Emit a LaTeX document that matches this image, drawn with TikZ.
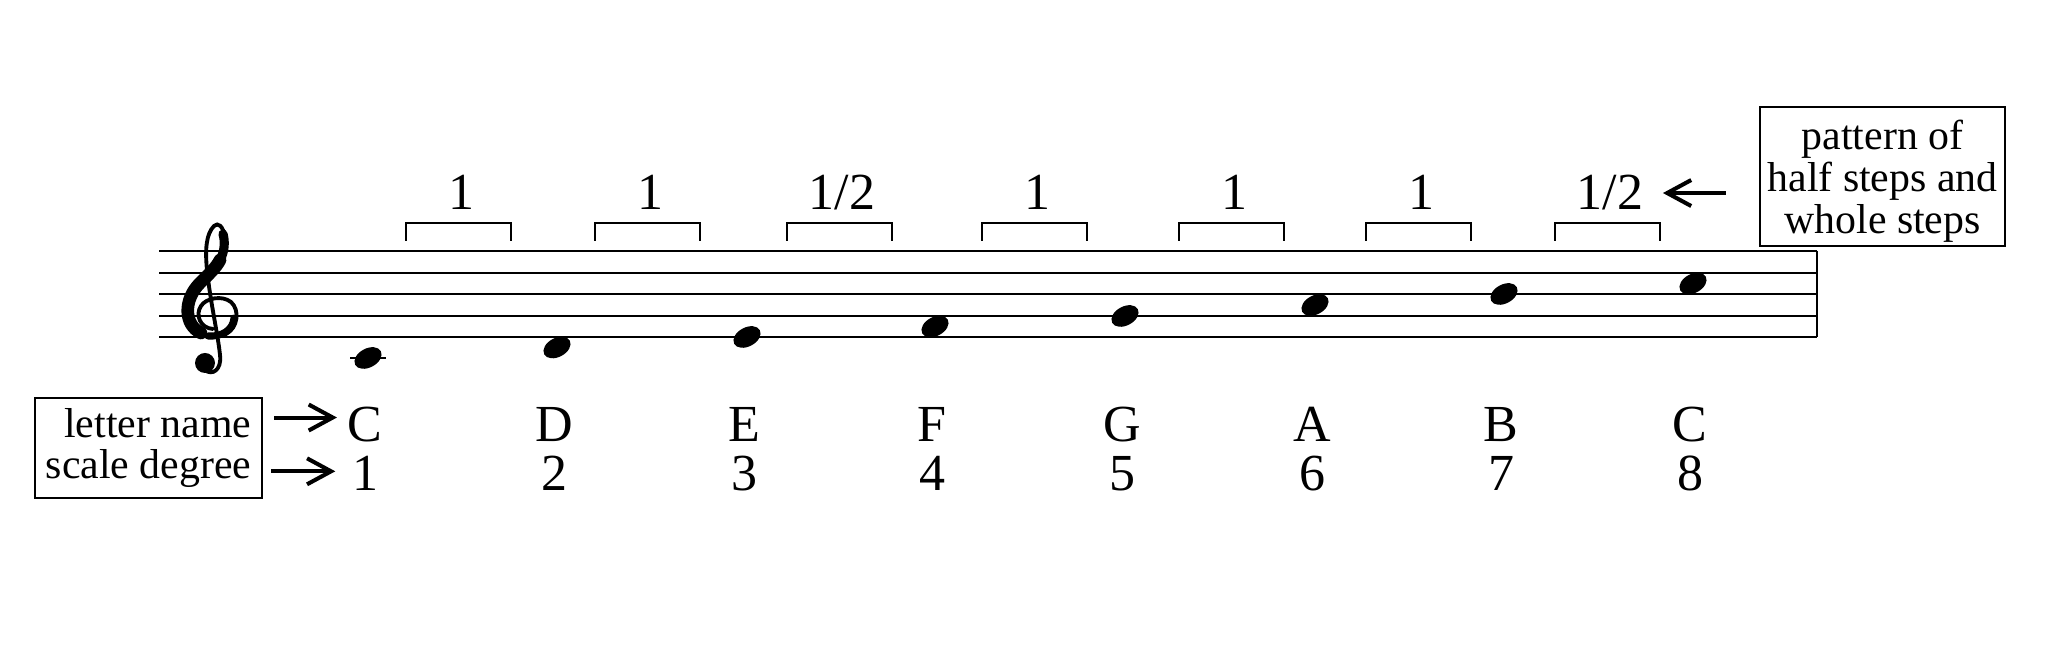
\documentclass[tikz,border=0pt]{standalone}
\usepackage{fontspec}
\setmainfont{Liberation Serif}
\usetikzlibrary{arrows.meta}

\begin{document}
\begin{tikzpicture}[x=0.1mm, y=-0.1mm,
    linea/.style={line width=0.57pt},
    etiqueta/.style={font=\fontsize{14.8}{17}\selectfont, anchor=base, inner sep=0pt},
    caja/.style={draw, line width=0.6pt, inner sep=0pt},
    flecha/.style={line width=1.15pt, -{Straight Barb[length=2.4mm, width=2.6mm]}}]
    \useasboundingbox (0,0) rectangle (2048,647);
    % Pentagrama
    \foreach \y in {251,273,294,316,337}
      \draw[linea] (159,\y) -- (1817,\y);
    \draw[linea] (1817,251) -- (1817,337);
    % Clave de sol
    \draw[line width=1.1pt, line cap=round] (213,329) .. controls (200,328) and (195,315) .. (201,306)
      .. controls (206,298) and (222,295) .. (231,302)
      .. controls (240,310) and (238,328) .. (226,334)
      .. controls (213,340) and (192,336) .. (186,322)
      .. controls (180,308) and (188,293) .. (200,282)
      .. controls (213,270) and (228,258) .. (225,237)
      .. controls (223,226) and (218,222) .. (214,226)
      .. controls (206,234) and (205,250) .. (207,270)
      .. controls (210,300) and (218,335) .. (220,355)
      .. controls (222,370) and (212,376) .. (205,370);
    \draw[line width=2pt, line cap=round] (234,318) .. controls (233,330) and (222,337) .. (208,336);
    \draw[line width=3.6pt, line cap=round] (201,333) .. controls (184,325) and (183,300) .. (200,283)
      .. controls (208,275) and (216,268) .. (220,260);
    \draw[line width=2.6pt, line cap=round] (220,260) .. controls (225,251) and (225,241) .. (223,234);
    \fill (205,363) circle (10);
    % Notas de la escala
    \draw[linea] (350,358) -- (386,358);
    \foreach \x/\y/\l/\n in {368/358/C/1, 557/347.5/D/2, 747/337/E/3, 935/326.5/F/4,
        1125/316/G/5, 1315/305/A/6, 1504/294/B/7, 1693/283.5/C/8} {
      \fill[rotate around={28:(\x,\y)}] (\x,\y) ellipse [x radius=14.5, y radius=9.5];
      \node[etiqueta] (letra\n) at (\x-3,442) {\l};
      \node[etiqueta] (grado\n) at (\x-3,491) {\n};
    }
    % Tonos y semitonos
    \foreach \a/\s [count=\i] in {406/1, 595/1, 787/{1/2}, 982/1, 1179/1, 1366/1, 1555/{1/2}} {
      \draw[linea] (\a,241) -- (\a,223) -- (\a+105,223) -- (\a+105,241);
      \node[etiqueta] (paso\i) at (\a+55,210) {\s};
    }
    % Recuadros
    \node[caja, align=right, minimum width=22.7mm, minimum height=10mm,
      font=\fontsize{11.9}{11.8}\selectfont] (nombres) at (148.5,448) {letter name\\scale degree};
    \node[caja, minimum width=24.5mm, minimum height=13.9mm] (patron) at (1882.5,176.5) {};
    \node[align=center, inner sep=0pt, font=\fontsize{11.9}{12}\selectfont] (textopatron)
      at ([yshift=-0.5mm]patron.center) {pattern of\\half steps and\\whole steps};
    % Flechas
    \draw[flecha] ([xshift=1.1mm, yshift=0.75mm]nombres.east |- letra1) -- ([xshift=-1mm, yshift=0.75mm]letra1.west);
    \draw[flecha] ([xshift=0.8mm, yshift=0.25mm]nombres.east |- grado1) -- ([xshift=-1.6mm, yshift=0.25mm]grado1.west);
    \draw[flecha] ([xshift=-3.3mm]paso7.east -| patron.west) -- ([xshift=1.9mm]paso7.east);
\end{tikzpicture}
\end{document}
